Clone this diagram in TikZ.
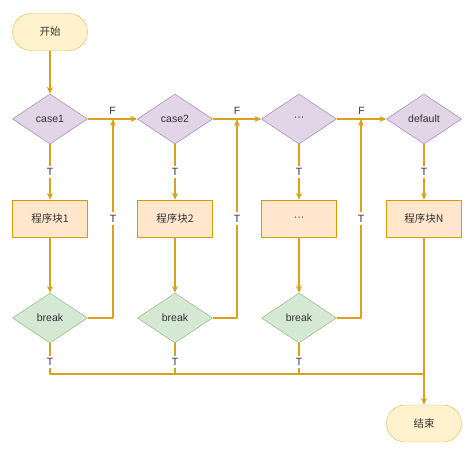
\documentclass[tikz,border=0pt]{standalone}
\usepackage{fontspec}
\setmainfont{Liberation Sans}
\newfontfamily\cjk{Noto Sans CJK SC}
\usetikzlibrary{shapes.geometric,arrows.meta}
\definecolor{xian}{HTML}{D9A21E}
\definecolor{vangnhat}{HTML}{FFF2CC}
\definecolor{vangdam}{HTML}{D6B656}
\definecolor{tim}{HTML}{E1D5E7}
\definecolor{timdam}{HTML}{9673A6}
\definecolor{cam}{HTML}{FFE6CC}
\definecolor{camdam}{HTML}{D79B00}
\definecolor{xanh}{HTML}{D5E8D4}
\definecolor{xanhdam}{HTML}{82B366}
\definecolor{chu}{HTML}{333333}
\tikzset{
	dau/.style={draw=vangdam, fill=vangnhat, rounded corners=18.5pt, minimum width=75pt, minimum height=37pt, inner sep=0pt},
	hoi/.style={diamond, aspect=1.5, draw=timdam, fill=tim, minimum width=75pt, minimum height=50pt, inner sep=0pt},
	khoi/.style={draw=camdam, fill=cam, minimum width=75pt, minimum height=37pt, inner sep=0pt},
	ngat/.style={diamond, aspect=1.5, draw=xanhdam, fill=xanh, minimum width=75pt, minimum height=50pt, inner sep=0pt},
	nhan/.style={fill=white, inner xsep=1.5pt, inner ysep=2.5pt, text=chu},
	noi/.style={draw=xian, line width=1.3pt}
}
\begin{document}
\begin{tikzpicture}[x=1pt, y=-1pt, font=\fontsize{10.5}{12}\selectfont, text=chu, line join=round, >={Stealth[length=7pt,width=6pt]}]
	\useasboundingbox (0,0) rectangle (474,455);
	\def\hang{119} % hàng case
	\def\gom{374} % đường gom
	\path
	(50,32) node[dau] (batdau) {\cjk 开始}
	(50,\hang) node[hoi] (c1) {case1}
	(175,\hang) node[hoi] (c2) {case2}
	(299,\hang) node[hoi] (c3) {···}
	(424,\hang) node[hoi] (cmd) {default}
	(50,218.5) node[khoi] (k1) {\cjk 程序块1}
	(175,218.5) node[khoi] (k2) {\cjk 程序块2}
	(299,218.5) node[khoi] (k3) {···}
	(424,218.5) node[khoi] (kN) {\cjk 程序块N}
	(50,318) node[ngat] (n1) {break}
	(175,318) node[ngat] (n2) {break}
	(299,318) node[ngat] (n3) {break}
	(424,423.5) node[dau] (ketthuc) {\cjk 结束};
	\coordinate (j1) at (113,\hang);
	\coordinate (j2) at (237,\hang);
	\coordinate (j3) at (361,\hang);
	\coordinate (g1) at (50,\gom);
	\coordinate (gN) at (424,\gom);
	\draw[noi,->] (batdau)--(c1);
	\draw[noi,->] (c1)--(c2) node[pos=.5,above=1pt,text=chu]{F};
	\draw[noi,->] (c2)--(c3) node[pos=.5,above=1pt,text=chu]{F};
	\draw[noi,->] (c3)--(cmd) node[pos=.5,above=1pt,text=chu]{F};
	\foreach \c/\k in {c1/k1,c2/k2,c3/k3,cmd/kN}
		\draw[noi,->] (\c)--(\k) node[pos=.5,nhan]{T};
	\foreach \k/\n in {k1/n1,k2/n2,k3/n3}
		\draw[noi,->] (\k)--(\n);
	\foreach \n/\j in {n1/j1,n2/j2,n3/j3}
		\draw[noi,->] (\n.east)-|(\j) node[pos=.75,nhan]{T};
	\draw[noi] (n1.south)--(g1)--(gN);
	\draw[noi] (n2.south)--(n2.south|-g1);
	\draw[noi] (n3.south)--(n3.south|-g1);
	\foreach \n in {n1,n2,n3}
		\path (\n.south)--(\n.south|-g1) node[pos=.6,nhan]{T};
	\draw[noi,->] (kN)--(ketthuc);
\end{tikzpicture}
\end{document}
